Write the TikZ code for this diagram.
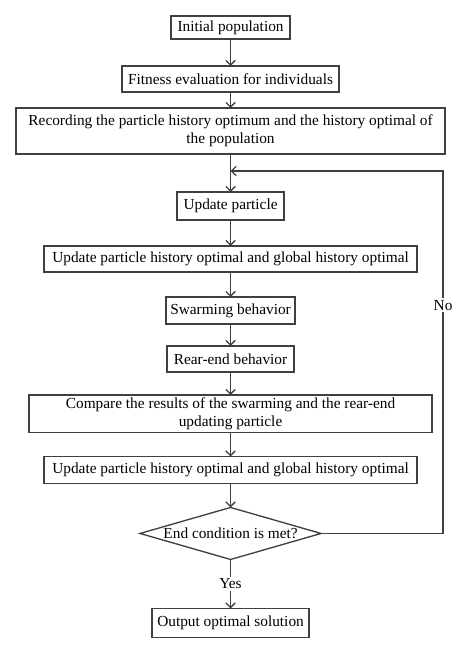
\documentclass[tikz,border=0pt]{standalone}
\usepackage{fontspec}
\setmainfont{Liberation Serif}
\usetikzlibrary{shapes.geometric, arrows.meta, positioning}
\tikzstyle{block} = [rectangle, draw=black!75, line width=1pt, outer sep=0pt, text centered, inner sep=2pt, font=\fontsize{11.5}{13.5}\selectfont]
\tikzstyle{decision} = [diamond, draw=black!75, line width=1pt, outer sep=0pt, inner sep=0pt, minimum width=135.75pt, minimum height=39pt, font=\fontsize{11.5}{13.5}\selectfont]
\tikzstyle{arrow} = [line width=1pt, draw=black!75, -{Straight Barb[length=3.5pt,width=7pt]}]
\tikzstyle{lbl} = [fill=white, inner sep=1.5pt, font=\fontsize{11.5}{13.5}\selectfont]
\begin{document}
\begin{tikzpicture}
  \useasboundingbox (-172.9pt,20.6pt) rectangle (182.6pt,-469.1pt);

  % Initialisation
  \node[block, minimum width=89.25pt, minimum height=17.25pt] (init) {Initial population};
  \node[block, below=20.25pt of init, minimum width=162.75pt, minimum height=19.5pt] (fit) {Fitness evaluation for individuals};
  \node[block, below=12pt of fit, minimum width=321.75pt, minimum height=34.5pt, align=center] (rec) {Recording the particle history optimum and the history optimal of\\the population};

  % Main loop
  \node[block, below=28.5pt of rec, minimum width=80.25pt, minimum height=21pt] (upd) {Update particle};
  \node[block, below=19.5pt of upd, minimum width=279.75pt, minimum height=19.5pt] (best1) {Update particle history optimal and global history optimal};
  \node[block, below=18.75pt of best1, minimum width=96.75pt, minimum height=20.25pt] (swarm) {Swarming behavior};
  \node[block, below=16.5pt of swarm, minimum width=95.25pt, minimum height=19.5pt] (rear) {Rear-end behavior};
  \node[block, below=17.25pt of rear, minimum width=302.25pt, minimum height=27.75pt, align=center] (comp) {Compare the results of the swarming and the rear-end\\updating particle};
  \node[block, below=18pt of comp, minimum width=279.75pt, minimum height=20.25pt] (best2) {Update particle history optimal and global history optimal};
  \node[decision, below=18pt of best2] (cond) {\makebox[0pt]{End condition is met?}};
  \node[block, below=36.75pt of cond, minimum width=117.75pt, minimum height=21.75pt] (out) {Output optimal solution};

  % Loop back
  \coordinate[below=12.75pt of rec] (join);
  \coordinate[right=91.5pt of cond] (turn);

  % Flows
  \draw[arrow] (init) -- (fit);
  \draw[arrow] (fit) -- (rec);
  \draw[arrow] (rec) -- (upd);
  \draw[arrow] (upd) -- (best1);
  \draw[arrow] (best1) -- (swarm);
  \draw[arrow] (swarm) -- (rear);
  \draw[arrow] (rear) -- (comp);
  \draw[arrow] (comp) -- (best2);
  \draw[arrow] (best2) -- (cond);
  \draw[arrow] (cond) -- node[lbl]{Yes} (out);
  \draw[arrow] (cond.east) -- (turn) |- node[lbl, pos=0.315]{No} (join);
\end{tikzpicture}
\end{document}
